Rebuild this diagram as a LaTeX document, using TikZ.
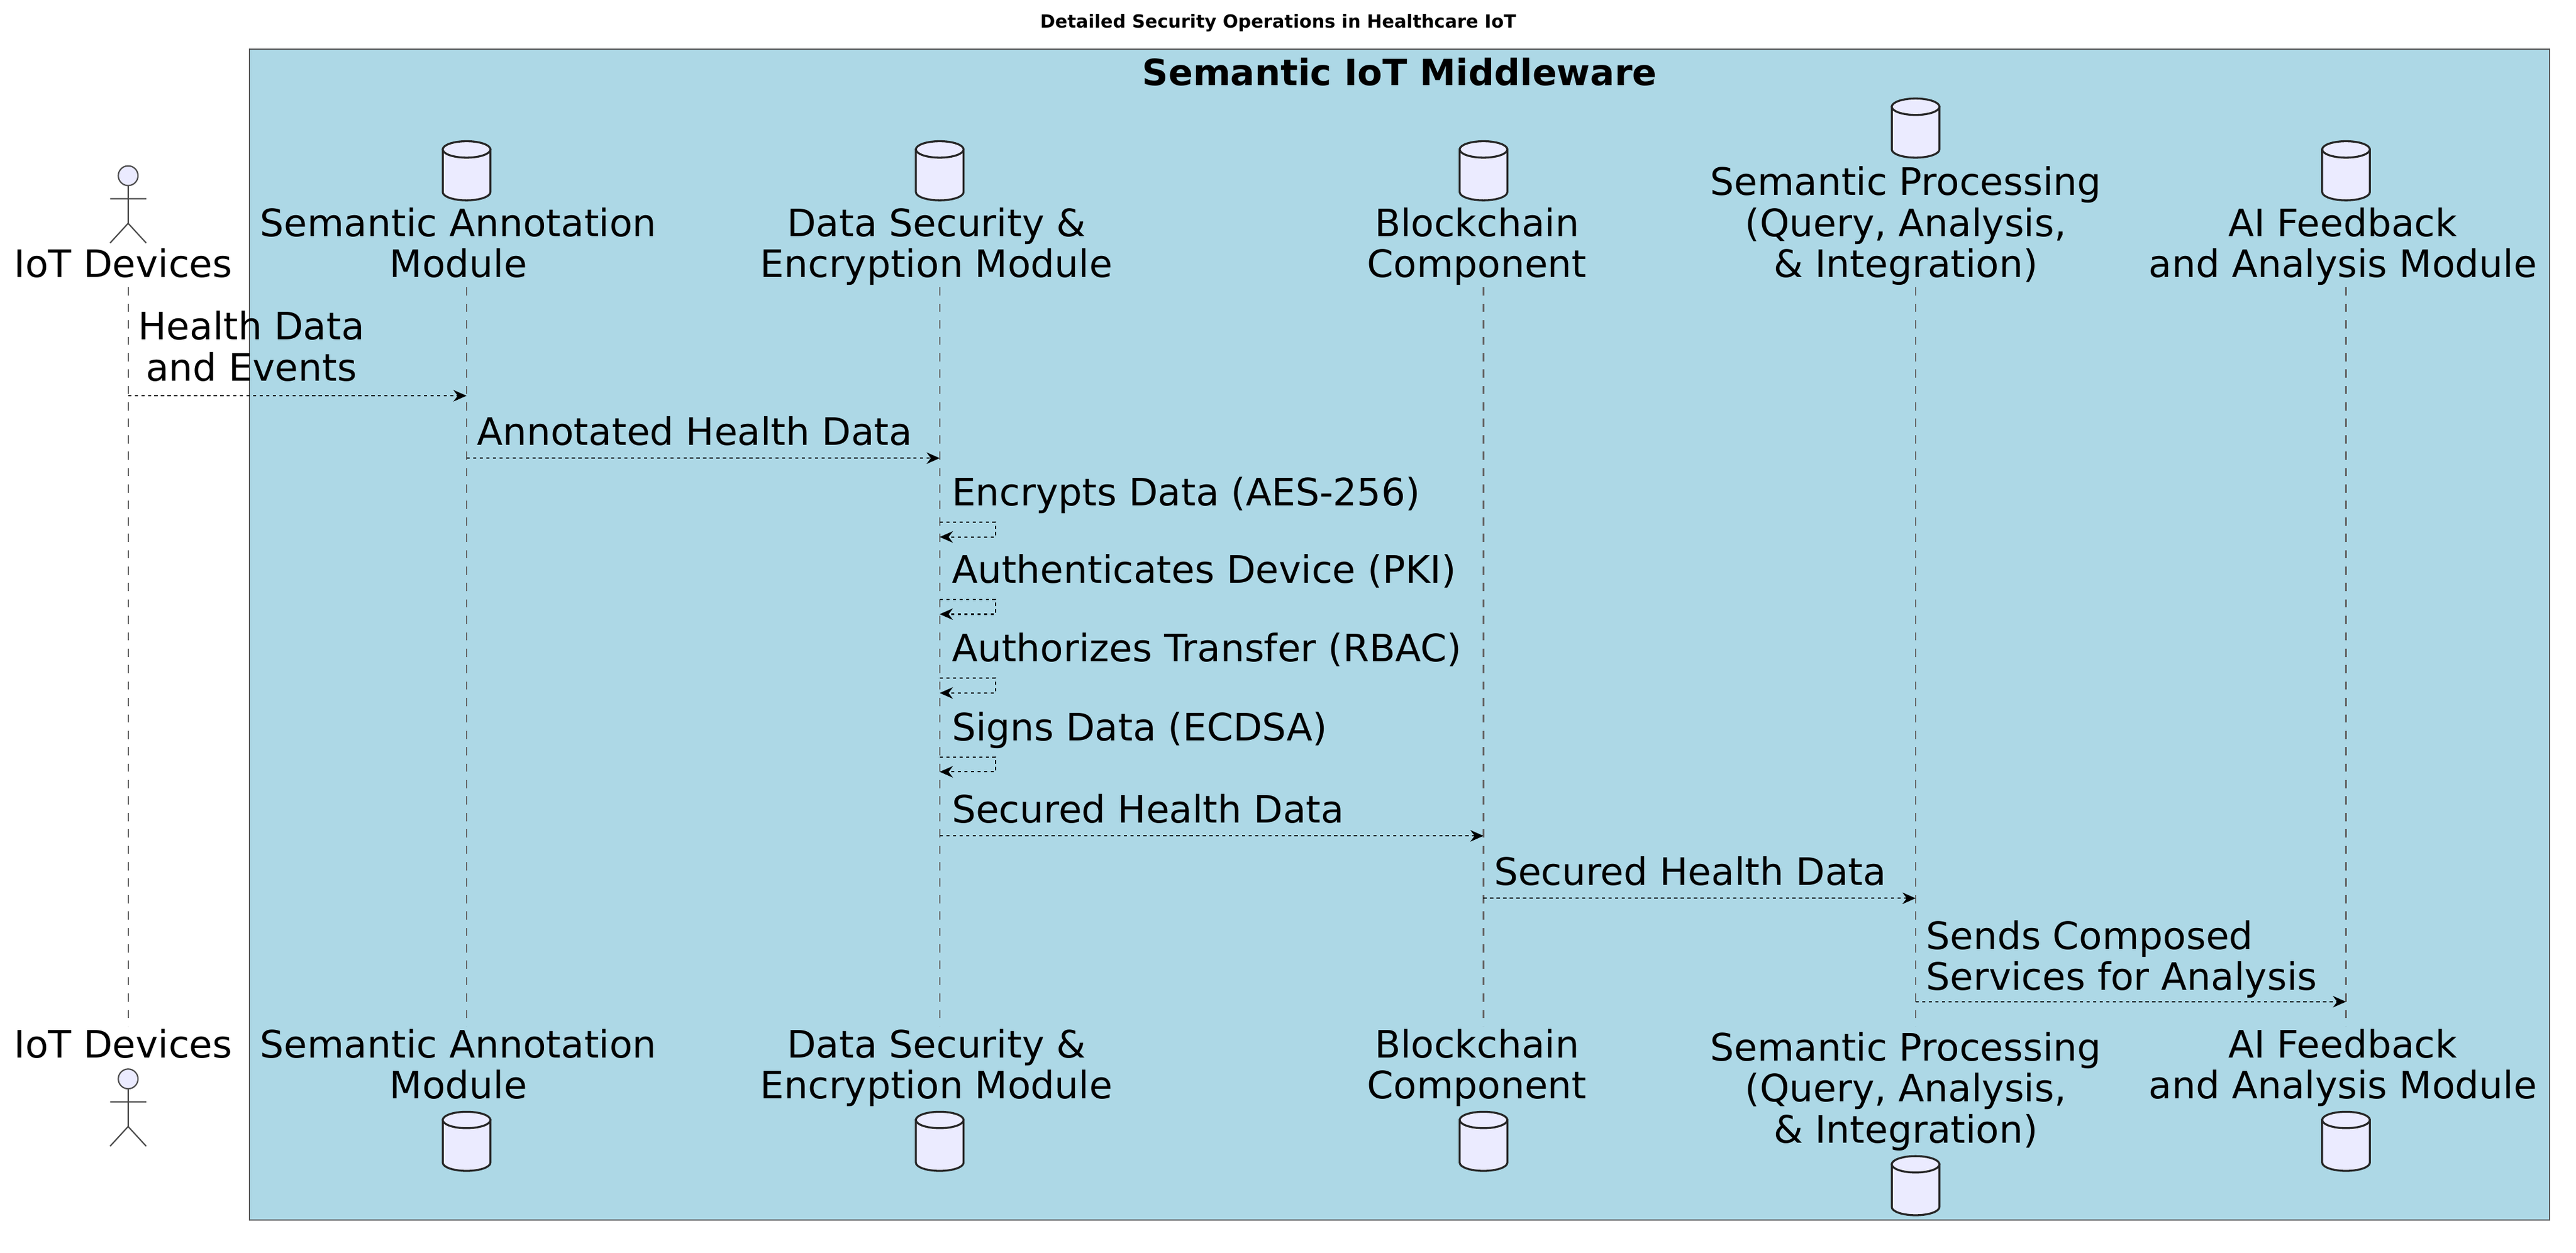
\documentclass[tikz,border=0pt]{standalone}
\usepackage{fontspec}
\setmainfont{DejaVu Sans}
\usetikzlibrary{arrows.meta}
\begin{document}
\begin{tikzpicture}[x=0.5pt,y=-0.5pt,
  lbl/.style={font=\fontsize{11.5}{12.5}\selectfont,inner sep=0pt,align=center,anchor=base},
  msg/.style={draw=black,line width=0.4pt,dash pattern=on 1pt off 1pt,-{Stealth[length=4pt,width=3.5pt]}},
  life/.style={draw=gray!80!black,line width=0.4pt,dash pattern=on 2.5pt off 2.5pt},
  dbst/.style={draw=black!85,fill=blue!8!white,line width=0.6pt},
  mtxt/.style={font=\fontsize{11.5}{12.5}\selectfont,inner sep=0pt,anchor=base west},
  dbc/.pic={
    \path[dbst] (-14.5,-13) -- (-14.5,13) arc[start angle=180,end angle=0,x radius=14.5,y radius=5] -- (14.5,-13) -- cycle;
    \path[dbst] (0,-13) ellipse[x radius=14.5,y radius=5];
  }]
\useasboundingbox (0,0) rectangle (1568,763);
\node[font=\bfseries\fontsize{5.5}{6}\selectfont] (title) at (778,14) {Detailed Security Operations in Healthcare IoT};
\fill[fill={rgb,255:red,173;green,216;blue,230},draw=gray!70!black,line width=0.4pt] (152,30) rectangle (1552,743);
\node[font=\bfseries\fontsize{11}{13}\selectfont] (boxt) at (852,44) {Semantic IoT Middleware};
% lifelines
\foreach \n/\x in {iot/78,sa/284,ds/572,bc/903,sp/1166,ai/1428}{
  \coordinate (\n t) at (\x,175); \coordinate (\n b) at (\x,625);
  \draw[life] (\n t) -- (\n b);}
% actors
\foreach \y in {107,657}{
  \draw[fill=blue!8!white,draw=black!70,line width=0.4pt] (78,\y) circle (6);
  \draw[draw=black!70,line width=0.4pt] (78,\y+6) -- (78,\y+29) (67,\y+14) -- (89,\y+14) (67,\y+41) -- (78,\y+29) -- (89,\y+41);}
\node[lbl] (iotl1) at (75,169) {IoT Devices};
\node[lbl] (iotl2) at (75,644) {IoT Devices};
% databases
\foreach \x/\y in {284/104,572/104,903/104,1166/78,1428/104,284/695,572/695,903/695,1166/722,1428/695}
  \pic at (\x,\y) {dbc};
\node[lbl] (t1) at (279,169) {Semantic Annotation\\Module};
\node[lbl] (t2) at (570,169) {Data Security \&\\Encryption Module};
\node[lbl] (t3) at (899,169) {Blockchain\\Component};
\node[lbl] (t4) at (1160,169) {Semantic Processing\\(Query, Analysis,\\\& Integration)};
\node[lbl] (t5) at (1426,169) {AI Feedback\\and Analysis Module};
\node[lbl] (b1) at (279,669) {Semantic Annotation\\Module};
\node[lbl] (b2) at (570,669) {Data Security \&\\Encryption Module};
\node[lbl] (b3) at (899,669) {Blockchain\\Component};
\node[lbl] (b4) at (1160,696) {Semantic Processing\\(Query, Analysis,\\\& Integration)};
\node[lbl] (b5) at (1426,669) {AI Feedback\\and Analysis Module};
% messages
\draw[msg] (78,241) -- (284,241);
\node[lbl] (m1) at (153,232) {Health Data\\and Events};
\draw[msg] (284,279) -- (572,279);
\node[mtxt] (m2) at (290,271) {Annotated Health Data};
\foreach \y/\t in {318/Encrypts Data (AES-256),365/Authenticates Device (PKI),413/Authorizes Transfer (RBAC),461/Signs Data (ECDSA)}{
  \draw[msg] (572,\y) -- (606,\y) -- (606,\y+9) -- (572,\y+9);
  \node[mtxt] at (579,\y-10) {\t};}
\draw[msg] (572,509) -- (903,509);
\node[mtxt] (m7) at (579,501) {Secured Health Data};
\draw[msg] (903,547) -- (1166,547);
\node[mtxt] (m8) at (909,539) {Secured Health Data};
\draw[msg] (1166,610) -- (1428,610);
\node[mtxt,align=left] (m9) at (1172,603) {Sends Composed\\Services for Analysis};
\end{tikzpicture}
\end{document}
